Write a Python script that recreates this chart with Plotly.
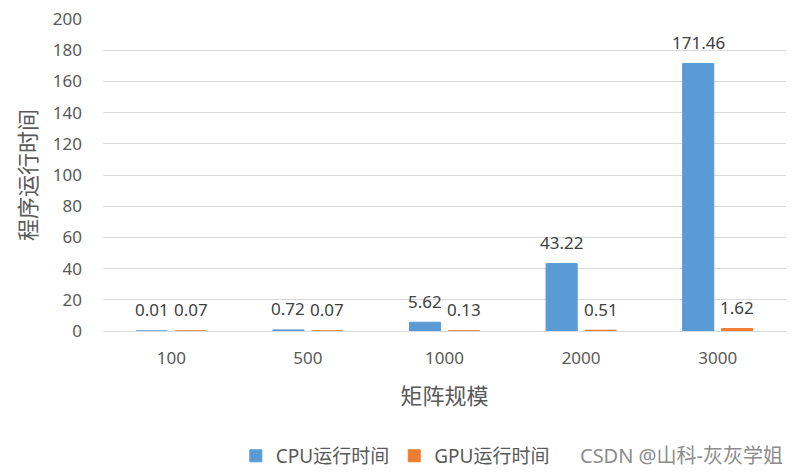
import plotly.graph_objects as go

# Data
sizes = ['100', '500', '1000', '2000', '3000']
cpu_time = [0.01, 0.72, 5.62, 43.22, 171.46]
gpu_time = [0.07, 0.07, 0.13, 0.51, 1.62]

FONT = 'Noto Sans, Noto Sans CJK SC'
BLUE = '#5B9BD5'
ORANGE = '#ED7D31'
GREY = '#595959'

fig = go.Figure()
fig.add_trace(go.Bar(x=sizes, y=cpu_time, name='CPU运行时间',
                     marker=dict(color=BLUE, line=dict(color=BLUE, width=1))))
fig.add_trace(go.Bar(x=sizes, y=gpu_time, name='GPU运行时间',
                     marker=dict(color=ORANGE, line=dict(color=ORANGE, width=1))))

# value labels above each bar (x given as category index)
for vals, shift in [(cpu_time, -19.5), (gpu_time, 19.5)]:
    for i, v in enumerate(vals):
        fig.add_annotation(x=i, y=v, text=f'{v:.2f}', showarrow=False,
                           xshift=shift, yshift=21, yanchor='middle',
                           font=dict(family=FONT, size=17, color='#404040'))

# watermark
fig.add_annotation(xref='paper', yref='paper', x=0.9985, y=-0.40,
                   xanchor='right', yanchor='middle', showarrow=False,
                   text='CSDN @山科-灰灰学姐',
                   font=dict(family=FONT, size=20, color='#8c8c8c'))

# page body adds an 8px margin, margins shifted to compensate
fig.update_layout(
    width=797, height=476,
    margin=dict(l=95, r=19, t=11, b=152),
    paper_bgcolor='white', plot_bgcolor='white',
    font=dict(family=FONT, size=17, color=GREY),
    barmode='group', bargap=0.43, bargroupgap=0.2,
    showlegend=True,
    legend=dict(orientation='h', x=0.428, y=-0.396, xanchor='center', yanchor='middle',
                font=dict(size=19, color=GREY), itemwidth=30),
    xaxis=dict(type='category', range=[-0.5, 4.5], automargin=False,
               title=dict(text='矩阵规模', font=dict(size=22, color=GREY), standoff=20),
               showgrid=False, showline=False, ticks='', ticklabelstandoff=15),
    yaxis=dict(title=dict(text='程序运行时间', font=dict(size=22, color=GREY), standoff=10),
               range=[0, 200], dtick=20, showgrid=True, gridcolor='#D9D9D9', automargin=False,
               zeroline=True, zerolinecolor='#D9D9D9', zerolinewidth=1,
               showline=False, ticks='', ticklabelstandoff=20, ticklabeloverflow='allow'),
)

fig.write_html('out.html')
